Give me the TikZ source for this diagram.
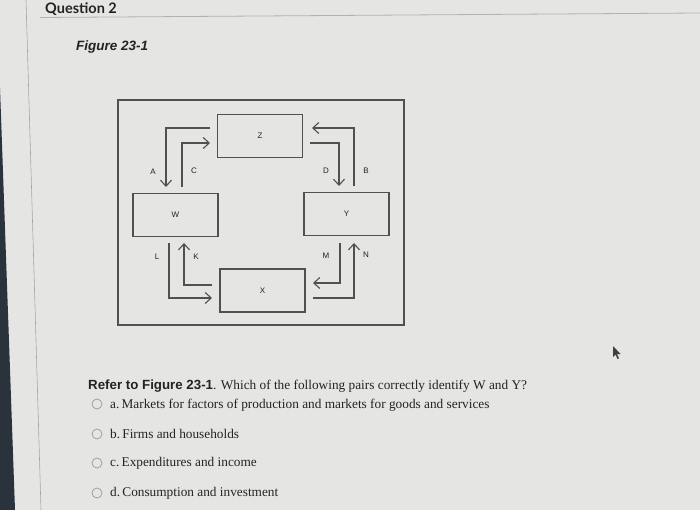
\documentclass[tikz,border=0pt]{standalone}
\usepackage{fontspec}
\setmainfont{Liberation Serif}
\setsansfont{Liberation Sans}
\newfontfamily\headfont{Lato}
\usetikzlibrary{arrows.meta}

\definecolor{screen}{RGB}{229,229,227}
\definecolor{bezel}{RGB}{42,50,60}
\definecolor{ink}{RGB}{80,80,80}
\definecolor{txt}{RGB}{35,35,35}

\tikzset{
  box/.style={draw=ink, line width=1.1pt, minimum width=85pt, minimum height=43pt,
    inner sep=0pt, font=\sffamily\fontsize{8}{9}\selectfont, text=txt},
  flow/.style={draw=ink, line width=1.1pt, -{Straight Barb[length=6pt,width=11pt,line width=1.1pt]}},
  lab/.style={font=\sffamily\fontsize{8}{9}\selectfont, text=txt, inner sep=0pt},
  radio/.style={draw=gray!80, line width=0.7pt, circle, minimum size=10pt, inner sep=0pt},
  answer/.style={anchor=west, inner sep=0pt, font=\fontsize{13.3}{15}\selectfont, text=txt}
}

\begin{document}
\begin{tikzpicture}[x=1pt, y=-1pt]

    % Screen background and photo edges
    \fill[screen] (0,0) rectangle (700,510);
    \useasboundingbox (0,0) rectangle (700,510);
    \fill[bezel] (0,88) -- (15,510) -- (0,510) -- cycle;
    \draw[gray!70, line width=0.6pt] (26,0) -- (41,510);
    \draw[gray!60, line width=0.8pt] (40,17.5) -- (700,13);

    % Titles
    \node[anchor=west, inner sep=0pt, text=txt] (question) at (45,9.5)
      {\headfont\bfseries\fontsize{14.5}{16}\selectfont Question 2};
    \node[anchor=west, inner sep=0pt, text=txt] (figure) at (76,47)
      {\sffamily\bfseries\itshape\fontsize{13.5}{15}\selectfont Figure 23-1};

    % Frame round the circular flow
    \draw[ink, line width=1.3pt] (118,100) rectangle (404,325);

    % The four boxes
    \node[box] (Z) at (260,136) {Z};
    \node[box] (W) at (175.5,215) {W};
    \node[box] (Y) at (346.5,214) {Y};
    \node[box] (X) at (262.5,290.5) {X};

    % Free ends of the arrows, next to the boxes
    \coordinate (a1) at (210,128);   \coordinate (a2) at (166,187);
    \coordinate (c1) at (182,187);   \coordinate (c2) at (210,143);
    \coordinate (d1) at (310,143);   \coordinate (d2) at (339,186);
    \coordinate (b1) at (354,186);   \coordinate (b2) at (312,128);
    \coordinate (l1) at (169,243);   \coordinate (l2) at (212,298);
    \coordinate (k1) at (212,285);   \coordinate (k2) at (184,243);
    \coordinate (m1) at (340,243);   \coordinate (m2) at (313,283);
    \coordinate (n1) at (313,298);   \coordinate (n2) at (354,243);

    % Upper arrows
    \draw[flow] (a1) -| (a2);
    \draw[flow] (c1) |- (c2);
    \draw[flow] (d1) -| (d2);
    \draw[flow] (b1) |- (b2);

    % Lower arrows
    \draw[flow] (l1) |- (l2);
    \draw[flow] (k1) -| (k2);
    \draw[flow] (m1) |- (m2);
    \draw[flow] (n1) -| (n2);

    % Arrow labels
    \node[lab] (labA) at (153,172) {A};
    \node[lab] (labC) at (194,171) {C};
    \node[lab] (labD) at (326,171) {D};
    \node[lab] (labB) at (366,171) {B};
    \node[lab] (labL) at (157,257) {L};
    \node[lab] (labK) at (196,257) {K};
    \node[lab] (labM) at (326,256) {M};
    \node[lab] (labN) at (366,255) {N};

    % Question and answers
    \node[answer] (ask) at (88,386)
      {{\sffamily\bfseries Refer to Figure 23-1}. Which of the following pairs correctly identify W and Y?};
    \node[radio] (ra) at (97,404) {};
    \node[radio] (rb) at (97,434) {};
    \node[radio] (rc) at (97,463) {};
    \node[radio] (rd) at (97,493) {};
    \node[answer] (ansa) at (110,405) {a.\,Markets for factors of production and markets for goods and services};
    \node[answer] (ansb) at (110,434) {b.\,Firms and households};
    \node[answer] (ansc) at (110,463) {c.\,Expenditures and income};
    \node[answer] (ansd) at (110,493) {d.\,Consumption and investment};

    % Mouse pointer
    \fill[black!75] (613,346) -- (613,357) -- (615.5,354.5) -- (617.5,359) -- (619,358.3) -- (617,354) -- (620.5,354) -- cycle;

\end{tikzpicture}
\end{document}
